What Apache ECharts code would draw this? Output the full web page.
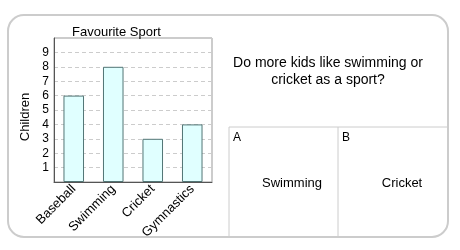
<!DOCTYPE html>
<html>
<head>
<meta charset="utf-8">
<script src="https://cdn.jsdelivr.net/npm/echarts@6/dist/echarts.min.js"></script>
<style>
  html, body { margin: 0; padding: 0; background: #fff; }
  #main { width: 460px; height: 250px; }
</style>
</head>
<body>
<div id="main"></div>
<script>
const sports = ["Baseball", "Swimming", "Cricket", "Gymnastics"];
const children = [6, 8, 3, 4];
const question = "Do more kids like swimming or\ncricket as a sport?";
const answers = ["Swimming", "Cricket"];
const answerKeys = ["A", "B"];

const font = "Liberation Sans, Arial, sans-serif";
const chart = echarts.init(document.getElementById("main"));

const option = {
  animation: false,
  textStyle: { fontFamily: font },
  title: {
    text: "Favourite Sport",
    left: 67,
    top: 21,
    textStyle: { fontSize: 13, fontWeight: "normal", color: "#000", fontFamily: font },
  },
  grid: {
    left: 54,
    right: 248,
    top: 38,
    bottom: 68,
    show: true,
    borderColor: "#999",
    borderWidth: 1,
  },
  xAxis: {
    type: "category",
    data: sports,
    axisLine: { lineStyle: { color: "#555" } },
    axisTick: { show: false },
    axisLabel: { rotate: 45, color: "#000", fontSize: 13, margin: 5, interval: 0, fontFamily: font },
  },
  yAxis: {
    type: "value",
    min: 0,
    max: 10,
    interval: 1,
    axisLine: { show: true, lineStyle: { color: "#555" } },
    axisTick: { show: false },
    axisLabel: {
      color: "#000",
      fontSize: 12,
      margin: 5,
      fontFamily: font,
      formatter: (v) => (v === 0 || v === 10 ? "" : v),
    },
    splitLine: { lineStyle: { color: "#ccc", type: [4, 3] } },
  },
  series: [
    {
      type: "bar",
      data: children,
      barWidth: "52%",
      itemStyle: { color: "#e0ffff", borderColor: "#527575", borderWidth: 1 },
    },
  ],
  graphic: [
    {
      type: "rect",
      shape: { x: 8, y: 15, width: 440, height: 222, r: 16 },
      style: { fill: "none", stroke: "#ccc", lineWidth: 2 },
      z: 10,
    },
    {
      type: "line",
      shape: { x1: 229, y1: 127, x2: 447, y2: 127 },
      style: { stroke: "#ccc", lineWidth: 1 },
    },
    {
      type: "line",
      shape: { x1: 229, y1: 127, x2: 229, y2: 237 },
      style: { stroke: "#ccc", lineWidth: 1 },
    },
    {
      type: "line",
      shape: { x1: 338, y1: 127, x2: 338, y2: 237 },
      style: { stroke: "#ccc", lineWidth: 1 },
    },
    {
      type: "text",
      x: 25,
      y: 117,
      rotation: Math.PI / 2,
      style: {
        text: "Children",
        fill: "#000",
        font: "13px " + font,
        align: "center",
        verticalAlign: "middle",
      },
    },
    {
      type: "text",
      x: 328,
      y: 72,
      style: {
        text: question,
        fill: "#000",
        font: "14px " + font,
        align: "center",
        verticalAlign: "middle",
        lineHeight: 17,
      },
    },
    {
      type: "text",
      x: 233,
      y: 132,
      style: { text: answerKeys[0], fill: "#000", font: "12px " + font },
    },
    {
      type: "text",
      x: 342,
      y: 132,
      style: { text: answerKeys[1], fill: "#000", font: "12px " + font },
    },
    {
      type: "text",
      x: 292,
      y: 183,
      style: { text: answers[0], fill: "#000", font: "13px " + font, align: "center", verticalAlign: "middle" },
    },
    {
      type: "text",
      x: 402,
      y: 183,
      style: { text: answers[1], fill: "#000", font: "13px " + font, align: "center", verticalAlign: "middle" },
    },
  ],
};

chart.setOption(option);
</script>
</body>
</html>
